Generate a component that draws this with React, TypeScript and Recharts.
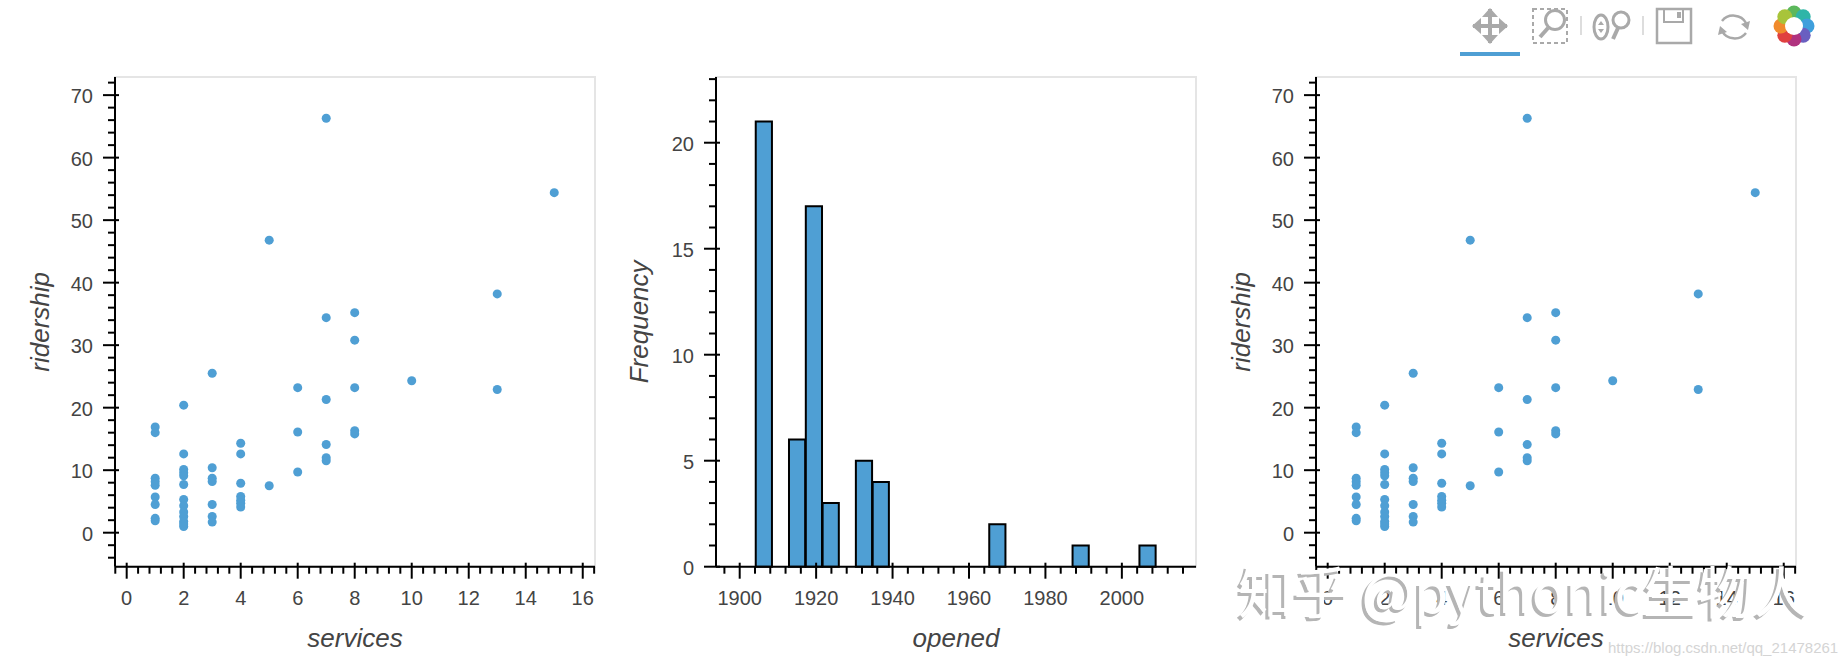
import React from "react";
import { ScatterChart, Scatter, BarChart, Bar, XAxis, YAxis, ZAxis, ReferenceArea } from "recharts";

// one row per station
const services = [
  1, 1, 1, 1, 1, 1, 1, 1, 1,
  2, 2, 2, 2, 2, 2, 2, 2, 2, 2, 2, 2, 2,
  3, 3, 3, 3, 3, 3, 3,
  4, 4, 4, 4, 4, 4, 4,
  5, 5,
  6, 6, 6,
  7, 7, 7, 7, 7, 7,
  8, 8, 8, 8, 8,
  10, 13, 13, 15,
];
const ridership = [
  16.9, 16.0, 8.7, 8.15, 7.6, 5.7, 4.5, 2.3, 1.9,
  20.4, 12.6, 10.1, 9.6, 9.1, 7.7, 5.3, 4.3, 3.3, 2.6, 1.8, 1.4, 1.0,
  25.5, 10.4, 8.7, 8.2, 4.5, 2.6, 1.7,
  14.3, 12.6, 7.9, 5.8, 5.2, 4.7, 4.1,
  46.8, 7.5,
  23.2, 16.1, 9.7,
  66.3, 34.4, 21.3, 14.1, 12.0, 11.5,
  35.2, 30.8, 23.2, 16.3, 15.8,
  24.3, 38.2, 22.9, 54.4,
];

// histogram bin centres and counts
const openedBins = [1906.4, 1915.1, 1919.5, 1923.9, 1932.6, 1937, 1967.5, 1989.3, 2006.8];
const frequency = [21, 6, 17, 3, 5, 4, 2, 1, 1];

const servicesMajor = [0, 2, 4, 6, 8, 10, 12, 14, 16];
const ridershipMajor = [0, 10, 20, 30, 40, 50, 60, 70];
const openedMajor = [1900, 1920, 1940, 1960, 1980, 2000];
const frequencyMajor = [0, 5, 10, 15, 20];

const servicesDomain = [-0.41, 16.43];
const ridershipDomain = [-5.44, 72.9];
const openedDomain = [1893.8, 2019.4];
const frequencyDomain = [0, 23.1];

const BLUE = "#4f9fd4";
const TEXT = "#444444";
const FONT = "'Liberation Sans', Arial, sans-serif";

// major and minor tick positions
const tickRange = (from: number, to: number, step: number) => {
  const out: number[] = [];
  for (let v = from; v <= to + step / 100; v += step) out.push(Math.round(v * 10) / 10);
  return out;
};

const servicesTicks = tickRange(-0.4, 16.4, 0.4);
const ridershipTicks = tickRange(-4, 72, 2);
const openedTicks = tickRange(1896, 2016, 4);
const frequencyTicks = tickRange(0, 23, 1);

const scatterData = services.map((s, i) => ({ services: s, ridership: ridership[i] }));
const histData = openedBins.map((o, i) => ({ opened: o, frequency: frequency[i] }));

const makeXTick = (major: number[]) => (props: any) => {
  const { x, y, payload } = props;
  const isMajor = major.includes(payload.value);
  return (
    <g>
      <line x1={x} x2={x} y1={isMajor ? y - 4 : y} y2={y + (isMajor ? 12 : 7)} stroke="#000" strokeWidth={2} />
      {isMajor && (
        <text x={x} y={y + 38} textAnchor="middle" fontSize={20} fontFamily={FONT} fill={TEXT}>
          {payload.value}
        </text>
      )}
    </g>
  );
};

const makeYTick = (major: number[]) => (props: any) => {
  const { x, y, payload } = props;
  const isMajor = major.includes(payload.value);
  return (
    <g>
      <line x1={isMajor ? x - 12 : x - 7} x2={isMajor ? x + 4 : x} y1={y} y2={y} stroke="#000" strokeWidth={2} />
      {isMajor && (
        <text x={x - 22} y={y + 8} textAnchor="end" fontSize={20} fontFamily={FONT} fill={TEXT}>
          {payload.value}
        </text>
      )}
    </g>
  );
};

const labelStyle = { fontSize: 26, fontStyle: "italic", fontFamily: FONT, fill: TEXT };
const axisLine = { stroke: "#000", strokeWidth: 2 };
const chartMargin = { top: 77, right: 5, bottom: 0, left: 0 };

function RidershipScatter({ left }: { left: number }) {
  return (
    <div style={{ position: "absolute", left, top: 0 }}>
      <ScatterChart width={600} height={666} margin={chartMargin}>
        <ReferenceArea
          x1={servicesDomain[0]}
          x2={servicesDomain[1]}
          y1={ridershipDomain[0]}
          y2={ridershipDomain[1]}
          fill="none"
          stroke="#e5e5e5"
          strokeWidth={2}
        />
        <XAxis
          type="number"
          dataKey="services"
          domain={servicesDomain}
          ticks={servicesTicks}
          interval={0}
          height={99.3}
          tickSize={0}
          tickMargin={0}
          tickLine={false}
          axisLine={axisLine}
          tick={makeXTick(servicesMajor)}
          label={{ value: "services", position: "insideBottom", offset: 19, style: labelStyle }}
        />
        <YAxis
          type="number"
          dataKey="ridership"
          domain={ridershipDomain}
          ticks={ridershipTicks}
          interval={0}
          width={115}
          tickSize={0}
          tickMargin={0}
          tickLine={false}
          axisLine={axisLine}
          tick={makeYTick(ridershipMajor)}
          label={{ value: "ridership", angle: -90, position: "insideLeft", offset: 40, textAnchor: "middle", style: labelStyle }}
        />
        <ZAxis range={[24, 24]} />
        <Scatter data={scatterData} fill={BLUE} isAnimationActive={false} />
      </ScatterChart>
    </div>
  );
}

function OpenedHistogram({ left }: { left: number }) {
  return (
    <div style={{ position: "absolute", left, top: 0 }}>
      <BarChart width={600} height={666} margin={chartMargin} data={histData}>
        <ReferenceArea
          x1={openedDomain[0]}
          x2={openedDomain[1]}
          y1={frequencyDomain[0]}
          y2={frequencyDomain[1]}
          fill="none"
          stroke="#e5e5e5"
          strokeWidth={2}
        />
        <XAxis
          type="number"
          dataKey="opened"
          domain={openedDomain}
          ticks={openedTicks}
          interval={0}
          height={99.3}
          tickSize={0}
          tickMargin={0}
          tickLine={false}
          axisLine={axisLine}
          tick={makeXTick(openedMajor)}
          label={{ value: "opened", position: "insideBottom", offset: 19, style: labelStyle }}
        />
        <YAxis
          type="number"
          domain={frequencyDomain}
          ticks={frequencyTicks}
          interval={0}
          width={115}
          tickSize={0}
          tickMargin={0}
          tickLine={false}
          axisLine={axisLine}
          tick={makeYTick(frequencyMajor)}
          label={{ value: "Frequency", angle: -90, position: "insideLeft", offset: 38, textAnchor: "middle", style: labelStyle }}
        />
        <Bar dataKey="frequency" barSize={16.2} fill={BLUE} stroke="#000" strokeWidth={2} isAnimationActive={false} />
      </BarChart>
    </div>
  );
}

// bokeh toolbar, same grey line icons as the screenshot
function Toolbar() {
  const grey = "#a9a9a9";
  const petals = ["#5cb85c", "#2fb5a8", "#3f9fdc", "#6a5fc0", "#b0327f", "#e0403f", "#f08a2c", "#a8c43a"];
  return (
    <svg width={1846} height={60} style={{ position: "absolute", left: 0, top: 0 }}>
      <g fill={grey}>
        <rect x={1473} y={24} width={34} height={4} />
        <rect x={1488} y={9} width={4} height={34} />
        <path d="M1490 8l8 9h-16zM1490 44l8-9h-16zM1472 26l9-8v16zM1508 26l-9-8v16z" />
      </g>
      <rect x={1460} y={52} width={60} height={4} fill={BLUE} />
      <rect x={1533} y={9} width={34} height={34} fill="none" stroke={grey} strokeWidth={2} strokeDasharray="4 3" />
      <circle cx={1555} cy={20} r={9.5} fill="#fff" stroke={grey} strokeWidth={3} />
      <line x1={1548} y1={28} x2={1540} y2={37} stroke={grey} strokeWidth={4} />
      <line x1={1581} y1={16} x2={1581} y2={35} stroke="#dddddd" strokeWidth={2} />
      <ellipse cx={1601} cy={27} rx={7} ry={12} fill="none" stroke={grey} strokeWidth={3} />
      <path d="M1601 21l-3 4h6zM1601 33l-3-4h6z" fill={grey} />
      <circle cx={1621} cy={20} r={8} fill="none" stroke={grey} strokeWidth={3} />
      <line x1={1618} y1={28} x2={1613} y2={39} stroke={grey} strokeWidth={4} />
      <line x1={1643} y1={16} x2={1643} y2={35} stroke="#dddddd" strokeWidth={2} />
      <rect x={1657} y={9} width={34} height={34} fill="none" stroke={grey} strokeWidth={2.5} />
      <path d="M1664 9v13h19v-13" fill="none" stroke={grey} strokeWidth={2} />
      <rect x={1677} y={12} width={4} height={6} fill={grey} />
      <path d="M1722 21a14 13 0 0 1 24 2M1746 33a14 13 0 0 1-24-2" fill="none" stroke={grey} strokeWidth={2.5} />
      <path d="M1750 21l-2 9-7-6zM1718 35l2-9 7 6z" fill={grey} />
      {petals.map((c, i) => {
        const a = (i / petals.length) * Math.PI * 2 - Math.PI / 2;
        return <circle key={c} cx={1794 + Math.cos(a) * 13} cy={26 + Math.sin(a) * 13} r={7.5} fill={c} />;
      })}
      <circle cx={1794} cy={26} r={9} fill="#fff" />
    </svg>
  );
}

export default function App() {
  return (
    <div style={{ position: "absolute", left: 0, top: 0, width: 1846, height: 666, background: "#fff", overflow: "hidden" }}>
      <RidershipScatter left={0} />
      <OpenedHistogram left={600.5} />
      <RidershipScatter left={1200.5} />
      <Toolbar />
      <div
        style={{
          position: "absolute",
          left: 1238,
          top: 551,
          fontSize: 55.5,
          lineHeight: "76px",
          whiteSpace: "nowrap",
          fontFamily: "'Noto Sans CJK SC', 'Liberation Sans', sans-serif",
          fontWeight: 400,
          color: "#fff",
          textShadow: "-3px 3px 0 #b5b5b5",
        }}
      >
        知乎 @pythonic生物人
      </div>
      <div
        style={{
          position: "absolute",
          left: 1608,
          top: 639,
          fontSize: 15,
          whiteSpace: "nowrap",
          fontFamily: FONT,
          color: "#d4d4d4",
        }}
      >
        https://blog.csdn.net/qq_21478261
      </div>
    </div>
  );
}
